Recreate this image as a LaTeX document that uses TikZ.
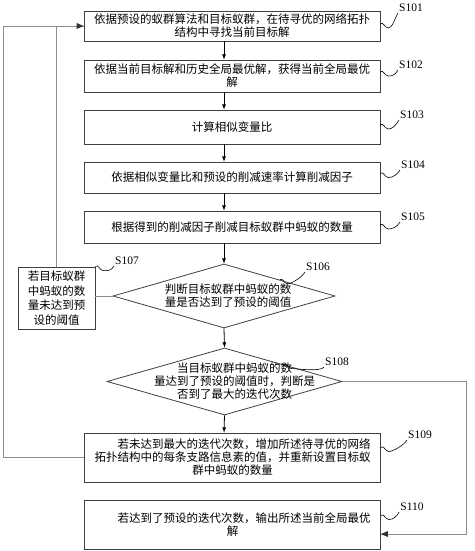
\documentclass[tikz,border=0pt]{standalone}
\usepackage{fontspec}
\setmainfont{Liberation Serif}
\newfontfamily\cjk{Noto Sans CJK SC}
\usetikzlibrary{shapes.geometric}

\newcommand{\squig}[2]{\draw[squig] (#1) .. controls +(3,-3) and +(-4,0) .. ++(8,4) .. controls +(4,0) and +(-3,5) .. (#2);}

\begin{document}
\begin{tikzpicture}[x=1pt,y=-1pt,
    box/.style={draw=black!75,line width=0.8pt,minimum width=296pt,inner sep=0pt,align=center,
      font=\cjk\fontsize{11.5}{13}\selectfont},
    dia/.style={draw=black!75,line width=0.8pt,diamond,inner sep=0pt},
    txt/.style={align=center,inner sep=0pt,font=\cjk\fontsize{11.5}{13}\selectfont},
    lbl/.style={font=\fontsize{11.5}{13}\selectfont,inner sep=1pt},
    arr/.style={-latex,line width=0.8pt},
    gline/.style={draw=black!45,line width=0.6pt},
    squig/.style={line width=0.6pt}]
  \useasboundingbox (0,0) rectangle (474,551);
  \coordinate (axis) at (224,0);
  % steps
  \node[box,minimum height=30pt] (s101) at (232,26) {依据预设的蚁群算法和目标蚁群，在待寻优的网络拓扑\\结构中寻找当前目标解};
  \node[box,minimum height=32pt] (s102) at (232,76) {依据当前目标解和历史全局最优解，获得当前全局最优\\解};
  \node[box,minimum height=34pt] (s103) at (232,127) {计算相似变量比};
  \node[box,minimum height=31pt] (s104) at (232,177.5) {依据相似变量比和预设的削减速率计算削减因子};
  \node[box,minimum height=32pt] (s105) at (232,227) {根据得到的削减因子削减目标蚁群中蚂蚁的数量};
  \node[dia,minimum width=222pt,minimum height=64pt] (s106) at (224,296) {};
  \node[txt] (t106) at ([xshift=4pt]s106.center) {判断目标蚁群中蚂蚁的数\\量是否达到了预设的阈值};
  \node[box,minimum width=77pt,minimum height=62pt,font=\cjk\fontsize{11.5}{14.5}\selectfont] (s107) at (56.5,298) {若目标蚁群\\中蚂蚁的数\\量未达到预\\设的阈值};
  \node[dia,minimum width=235pt,minimum height=67pt] (s108) at (224.5,381.5) {};
  \node[txt] (t108) at ([xshift=10pt]s108.center) {当目标蚁群中蚂蚁的数\\量达到了预设的阈值时，判断是\\否到了最大的迭代次数};
  \node[box,minimum height=49pt] (s109) at (232.5,457.5) {\hspace*{2em}若未达到最大的迭代次数，增加所述待寻优的网络\\拓扑结构中的每条支路信息素的值，并重新设置目标蚁\\群中蚂蚁的数量};
  \node[box,minimum height=49pt] (s110) at (232.5,524.5) {\hspace*{2em}若达到了预设的迭代次数，输出所述当前全局最优\\解};
  % labels
  \node[lbl] (l101) at (411,8) {S101};
  \node[lbl] (l102) at (411,65) {S102};
  \node[lbl] (l103) at (412,115) {S103};
  \node[lbl] (l104) at (413,165) {S104};
  \node[lbl] (l105) at (413,217) {S105};
  \node[lbl] (l106) at (318,267) {S106};
  \node[lbl] (l107) at (127,261) {S107};
  \node[lbl] (l108) at (337,362) {S108};
  \node[lbl] (l109) at (420,435) {S109};
  \node[lbl] (l110) at (412,507) {S110};
  \squig{[yshift=2pt]s101.east}{l101.south west}
  \squig{[yshift=4pt]s102.east}{l102.south west}
  \squig{[yshift=2pt]s103.east}{l103.south west}
  \squig{[yshift=4pt]s104.east}{l104.south west}
  \squig{[yshift=2pt]s105.east}{l105.south west}
  \squig{s106.north east}{l106.south west}
  \squig{s107.north east}{l107.south west}
  \squig{s108.north east}{l108.south west}
  \squig{[yshift=10pt]s109.east}{l109.south west}
  \squig{[yshift=9pt]s110.east}{l110.south west}
  % main flow
  \draw[arr] (s101.south -| axis) -- (s102.north -| axis);
  \draw[arr] (s102.south -| axis) -- (s103.north -| axis);
  \draw[arr] (s103.south -| axis) -- (s104.north -| axis);
  \draw[arr] (s104.south -| axis) -- (s105.north -| axis);
  \draw[arr] (s105.south -| axis) -- (s106.north);
  \draw[arr] (s106.south) -- (s108.north);
  \draw[arr] (s108.south) -- (s109.north -| axis);
  % loops back
  \coordinate (far) at (3,26);
  \coordinate (turn) at (466,534);
  \draw[gline] (s106.west) -- (s106.west -| s107.east);
  \draw[gline] (s107.north) |- (s101.west);
  \draw[gline] (s109.west) -| (far) -- (s101.west);
  \draw[gline] (s108.east) -| (turn) -- (turn -| s110.east);
  \fill[black!80] (s101.west) -- ++(-7,-3) -- ++(0,6) -- cycle;
  \fill[black!80] (turn -| s110.east) -- ++(7,-3) -- ++(0,6) -- cycle;
\end{tikzpicture}
\end{document}
